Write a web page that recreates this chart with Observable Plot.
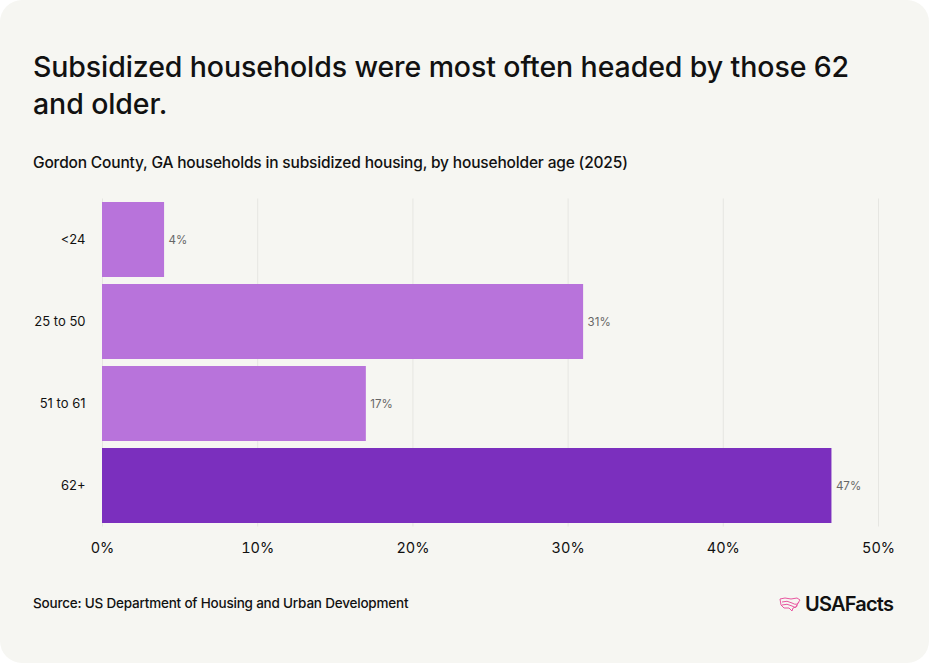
<!DOCTYPE html>
<html>
<head>
<meta charset="utf-8">
<script src="https://cdn.jsdelivr.net/npm/d3@7"></script>
<script src="https://cdn.jsdelivr.net/npm/@observablehq/plot@0.6"></script>
<style>
  html, body { margin: 0; padding: 0; background: #ffffff; }
  #card {
    position: relative; width: 929px; height: 663px; background: #f6f6f2;
    border-radius: 22px; overflow: hidden; font-family: Inter, "Noto Sans", sans-serif; color: #111;
  }
  #title { position: absolute; left: 33px; top: 48px; width: 850px; font-size: 28.5px; font-weight: 500; line-height: 37px; letter-spacing: -0.1px; }
  #subtitle { position: absolute; left: 33px; top: 153px; font-size: 15.5px; font-weight: 500; letter-spacing: -0.17px; }
  #chart { position: absolute; left: 0; top: 190px; }
  #source { position: absolute; left: 33px; top: 595px; font-size: 13.5px; font-weight: 500; letter-spacing: -0.2px; }
  #logo { position: absolute; left: 779px; top: 592px; display: flex; align-items: center; gap: 4px; }
  #logo span { font-size: 20px; font-weight: 600; letter-spacing: -0.8px; color: #111; }
</style>
</head>
<body>
<div id="card">
  <div id="title">Subsidized households were most often headed by those 62 and older.</div>
  <div id="subtitle">Gordon County, GA households in subsidized housing, by householder age (2025)</div>
  <div id="chart"></div>
  <div id="source">Source: US Department of Housing and Urban Development</div>
  <div id="logo">
    <svg width="22" height="16" viewBox="0 0 22 16"><path d="M1 3 L6 2 L12 3 L18 2 L21 4 L19 7 L17 11 L14 12 L13 15 L10 12 L5 12 L2 9 Z M3 6 Q8 4 13 7 T20 6 M3 9 Q8 7 13 10 T18 9" fill="none" stroke="#e8559f" stroke-width="1"/></svg>
    <span>USAFacts</span>
  </div>
</div>
<script>
const categories = ["<24", "25 to 50", "51 to 61", "62+"];
const values = [4, 31, 17, 47];
const labels = ["4%", "31%", "17%", "47%"];
const highlight = ["62+"];
const xTicks = [0, 10, 20, 30, 40, 50];

const data = categories.map((c, i) => ({ age: c, value: values[i], label: labels[i], hi: highlight.includes(c) }));

const chart = Plot.plot({
  width: 929,
  height: 390,
  marginLeft: 102,
  marginRight: 51,
  marginTop: 8.5,
  marginBottom: 53.5,
  style: { background: "transparent", fontFamily: "Inter, 'Noto Sans', sans-serif", color: "#111" },
  x: { domain: [0, 50], ticks: xTicks, tickFormat: d => d + "%", label: null },
  y: { domain: categories, paddingInner: 0.085, paddingOuter: 0.0425, label: null },
  marks: [
    Plot.ruleX(xTicks, { stroke: "#e6e6e2", strokeWidth: 1 }),
    Plot.barX(data, { y: "age", x: "value", fill: d => d.hi ? "#7b2fbe" : "#b873db" }),
    Plot.text(data, { y: "age", x: "value", text: "label", textAnchor: "start", dx: 4, fill: "#666", fontSize: 11.5, letterSpacing: "0.5px" }),
    Plot.axisX({ ticks: xTicks, tickFormat: d => d + "%", tickSize: 0, tickPadding: 16, fontSize: 14.5, label: null, letterSpacing: "0.3px" }),
    Plot.axisY({ tickSize: 0, tickPadding: 17, fontSize: 13, label: null })
  ]
});
document.getElementById("chart").appendChild(chart);
</script>
</body>
</html>
